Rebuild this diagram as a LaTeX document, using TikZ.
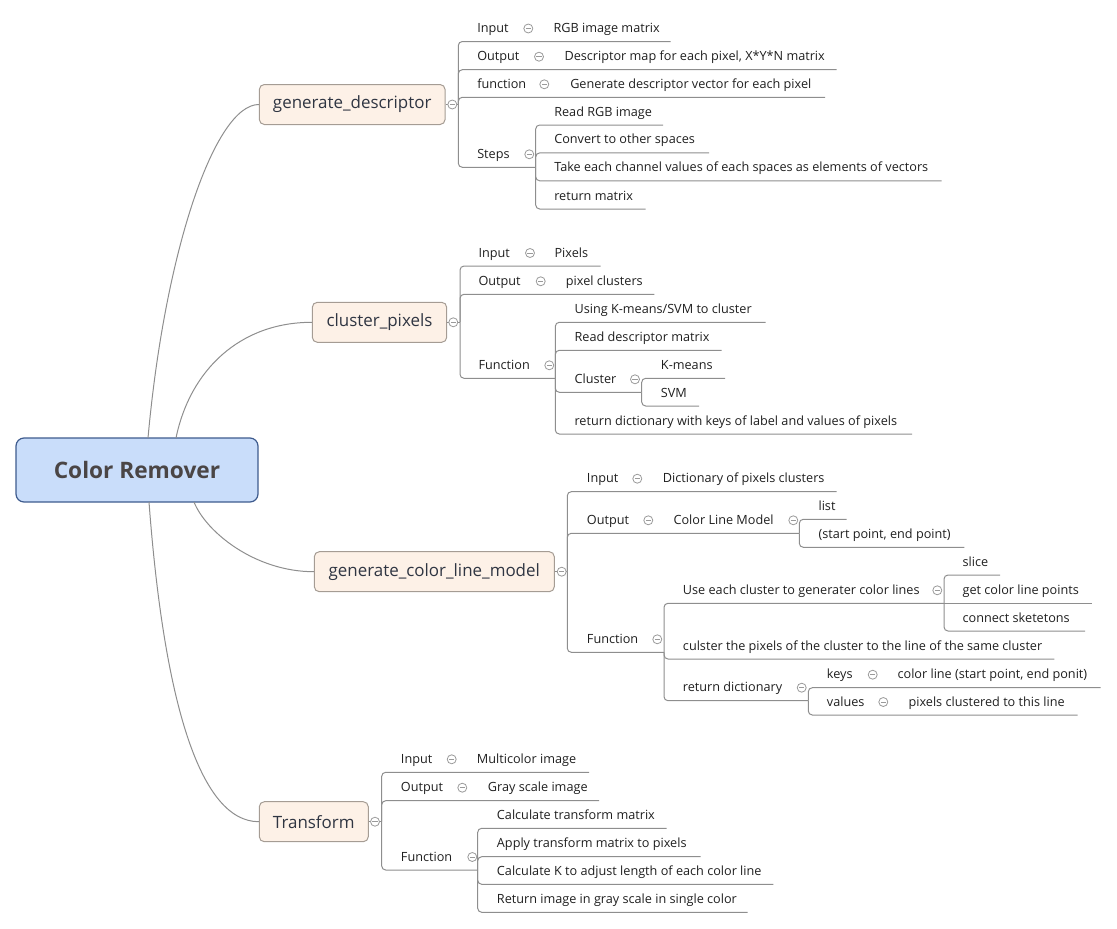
\documentclass[tikz,border=0pt]{standalone}
\usepackage{fontspec}
\setmainfont{Open Sans}
\definecolor{linec}{HTML}{8E8E8E}
\definecolor{iconc}{HTML}{9A9A9A}
\definecolor{leafc}{HTML}{1F1F1F}
\definecolor{rootf}{HTML}{C9DDFA}
\definecolor{rootb}{HTML}{3E5B8E}
\definecolor{rootc}{HTML}{4A4545}
\definecolor{brf}{HTML}{FDF1E7}
\definecolor{brb}{HTML}{A59C94}
\definecolor{brc}{HTML}{2F3542}
\tikzset{
  leaf/.style={font=\fontsize{9.5pt}{11pt}\selectfont, text=leafc, inner sep=0pt, anchor=base west},
  conn/.style={draw=linec, line width=0.75pt, rounded corners=3pt},
  curve/.style={draw=linec, line width=0.75pt},
  icon/.style={circle, draw=iconc, fill=white, line width=0.6pt, minimum size=6.75pt, inner sep=0pt,
    path picture={\draw[iconc, line width=0.6pt] ([xshift=-1.9pt]path picture bounding box.center) -- ([xshift=1.9pt]path picture bounding box.center);}},
  branch/.style={rectangle, rounded corners=3.75pt, draw=brb, fill=brf, line width=0.75pt,
    font=\fontsize{12.7pt}{15pt}\selectfont, text=brc, inner sep=0pt, minimum height=30pt},
  rootbox/.style={rectangle, rounded corners=6pt, draw=rootb, fill=rootf, line width=0.9pt,
    font=\fontsize{17pt}{20pt}\selectfont\bfseries, text=rootc, inner sep=0pt, minimum width=181.5pt, minimum height=48pt}
}
\newcommand\leafnode[5]{\node[leaf] (#1) at (#2,#3-9) {#5}; \coordinate (#1-e) at (#4,#3);}
\newcommand\iconnode[3]{\node[icon] (#1) at (#2,#3-13) {};}
\begin{document}
\begin{tikzpicture}[x=0.75pt,y=-0.75pt]
\useasboundingbox (0,0) rectangle (1117,928);
% root and branches
\node[rootbox] (root) at (137,470) {Color Remover};
\node[branch, minimum width=139.3pt] (br1) at (352.2,104.5) {generate\_descriptor};
\node[branch, minimum width=100.8pt] (br2) at (379.5,322.3) {cluster\_pixels};
\node[branch, minimum width=180pt] (br3) at (434.3,571.7) {generate\_color\_line\_model};
\node[branch, minimum width=81.75pt] (br4) at (313.8,821.7) {Transform};
\coordinate (r1) at (148,438);
\coordinate (r2) at (176,438);
\coordinate (r3) at (194,502);
\coordinate (r4) at (149,502);
\draw[curve] (r1) .. controls (165,250) and (215,104.5) .. (br1.west);
\draw[curve] (r2) .. controls (190,370) and (240,322.3) .. (br2.west);
\draw[curve] (r3) .. controls (206,532) and (255,571.7) .. (br3.west);
\draw[curve] (r4) .. controls (164,702) and (200,821.7) .. (br4.west);
\coordinate (j1) at (458.3,104.5);
\coordinate (j2) at (460,322.3);
\coordinate (j3) at (567.3,571.7);
\coordinate (j4) at (381.7,821.7);
\draw[conn] (br1.east) -- (j1);
\draw[conn] (br2.east) -- (j2);
\draw[conn] (br3.east) -- (j3);
\draw[conn] (br4.east) -- (j4);

% ---------- branch 1
\leafnode{a1}{477}{41.5}{553.3}{Input}
\leafnode{a1c}{553.3}{41.5}{670.7}{RGB image matrix}
\leafnode{a2}{477}{69.7}{564.3}{Output}
\leafnode{a2c}{564.3}{69.7}{836.7}{Descriptor map for each pixel, X*Y*N matrix}
\leafnode{a3}{477}{97.3}{570}{function}
\leafnode{a3c}{570}{97.3}{825}{Generate descriptor vector for each pixel}
\leafnode{a4}{477}{167.3}{535.7}{Steps}
\leafnode{a41}{554}{125}{663}{Read RGB image}
\leafnode{a42}{554}{152.9}{709}{Convert to other spaces}
\leafnode{a43}{554}{180.8}{941.7}{Take each channel values of each spaces as elements of vectors}
\leafnode{a44}{554}{209}{645.7}{return matrix}
\draw[conn] (j1) |- (a1-e) -- (a1c-e);
\draw[conn] (j1) |- (a2-e) -- (a2c-e);
\draw[conn] (j1) |- (a3-e) -- (a3c-e);
\draw[conn] (j1) |- (a4-e);
\foreach \k in {a41,a42,a43,a44} {\draw[conn] (a4-e) |- (\k-e);}
\iconnode{br1i}{452.3}{117.5}
\iconnode{a1i}{528.3}{41.5}
\iconnode{a2i}{539}{69.7}
\iconnode{a3i}{544.3}{97.3}
\iconnode{a4i}{529.3}{167.3}

% ---------- branch 2
\leafnode{c1}{478.3}{266}{554.3}{Input}
\leafnode{c1c}{554.3}{266}{600.7}{Pixels}
\leafnode{c2}{478.3}{294.3}{565.7}{Output}
\leafnode{c2c}{565.7}{294.3}{654.3}{pixel clusters}
\leafnode{c3}{478.3}{378.3}{555.3}{Function}
\leafnode{c31}{574.3}{322.3}{765.7}{Using K-means/SVM to cluster}
\leafnode{c32}{574.3}{350.3}{721.7}{Read descriptor matrix}
\leafnode{c33}{574.3}{392.3}{641.7}{Cluster}
\leafnode{c331}{660.7}{378.3}{725}{K-means}
\leafnode{c332}{660.7}{406}{699}{SVM}
\leafnode{c34}{574.3}{434}{912}{return dictionary with keys of label and values of pixels}
\draw[conn] (j2) |- (c1-e) -- (c1c-e);
\draw[conn] (j2) |- (c2-e) -- (c2c-e);
\draw[conn] (j2) |- (c3-e);
\foreach \k in {c31,c32,c33,c34} {\draw[conn] (c3-e) |- (\k-e);}
\foreach \k in {c331,c332} {\draw[conn] (c33-e) |- (\k-e);}
\iconnode{br2i}{453.3}{335.3}
\iconnode{c1i}{530}{266}
\iconnode{c2i}{540.7}{294.3}
\iconnode{c3i}{549.3}{378.3}
\iconnode{c33i}{635}{392.3}

% ---------- branch 3
\leafnode{d1}{586.7}{491.7}{662.7}{Input}
\leafnode{d1c}{662.7}{491.7}{836.7}{Dictionary of pixels clusters}
\leafnode{d2}{586.7}{533.3}{673.3}{Output}
\leafnode{d2c}{673.3}{533.3}{799.3}{Color Line Model}
\leafnode{d21}{818.3}{519.3}{846.7}{list}
\leafnode{d22}{818.3}{547.3}{964.3}{(start point, end point)}
\leafnode{d3}{586.7}{652.3}{664}{Function}
\leafnode{d31}{682.7}{603.3}{944}{Use each cluster to generater color lines}
\leafnode{d311}{962.3}{575}{1000}{slice}
\leafnode{d312}{962.3}{603.3}{1091.7}{get color line points}
\leafnode{d313}{962.3}{631}{1085}{connect sketetons}
\leafnode{d32}{682.7}{659}{1054.3}{culster the pixels of the cluster to the line of the same cluster}
\leafnode{d33}{682.7}{700.7}{808.3}{return dictionary}
\leafnode{d331}{826.7}{687.7}{897.3}{keys}
\leafnode{d331c}{897.3}{687.7}{1100.7}{color line (start point, end ponit)}
\leafnode{d332}{826.7}{715}{908.3}{values}
\leafnode{d332c}{908.3}{715}{1077.7}{pixels clustered to this line}
\draw[conn] (j3) |- (d1-e) -- (d1c-e);
\draw[conn] (j3) |- (d2-e) -- (d2c-e);
\draw[conn] (j3) |- (d3-e);
\foreach \k in {d21,d22} {\draw[conn] (d2c-e) |- (\k-e);}
\foreach \k in {d31,d32,d33} {\draw[conn] (d3-e) |- (\k-e);}
\draw[conn] (d31-e) |- (d311-e);
\draw[conn] (d31-e) -- (d312-e);
\draw[conn] (d31-e) |- (d313-e);
\draw[conn] (d33-e) |- (d331-e) -- (d331c-e);
\draw[conn] (d33-e) |- (d332-e) -- (d332c-e);
\iconnode{br3i}{561.7}{584.7}
\iconnode{d1i}{637.3}{491.7}
\iconnode{d2i}{648.3}{533.3}
\iconnode{d2ci}{793.3}{533.3}
\iconnode{d3i}{657.3}{652.3}
\iconnode{d31i}{937.3}{603.3}
\iconnode{d33i}{801.7}{700.7}
\iconnode{d331i}{872.7}{687.7}
\iconnode{d332i}{883.3}{715}

% ---------- branch 4
\leafnode{e1}{400.7}{772.3}{476.7}{Input}
\leafnode{e1c}{476.7}{772.3}{589}{Multicolor image}
\leafnode{e2}{400.7}{800.7}{487.7}{Output}
\leafnode{e2c}{487.7}{800.7}{599}{Gray scale image}
\leafnode{e3}{400.7}{870}{477.7}{Function}
\leafnode{e31}{496.7}{828.3}{666.7}{Calculate transform matrix}
\leafnode{e32}{496.7}{856.7}{700.7}{Apply transform matrix to pixels}
\leafnode{e33}{496.7}{884.3}{773.3}{Calculate K to adjust length of each color line}
\leafnode{e34}{496.7}{912.3}{747.7}{Return image in gray scale in single color}
\draw[conn] (j4) |- (e1-e) -- (e1c-e);
\draw[conn] (j4) |- (e2-e) -- (e2c-e);
\draw[conn] (j4) |- (e3-e);
\foreach \k in {e31,e32,e33,e34} {\draw[conn] (e3-e) |- (\k-e);}
\iconnode{br4i}{375}{834.7}
\iconnode{e1i}{451.7}{772.3}
\iconnode{e2i}{462.3}{800.7}
\iconnode{e3i}{472.3}{870}
\end{tikzpicture}
\end{document}
